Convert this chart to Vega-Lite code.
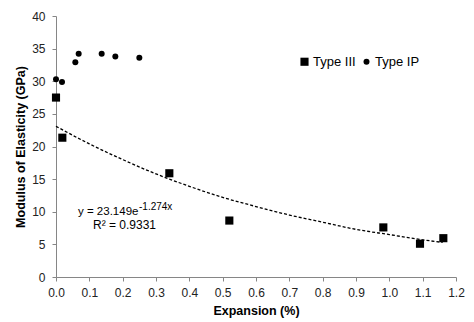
{
  "$schema": "https://vega.github.io/schema/vega-lite/v6.json",
  "width": 400,
  "height": 261,
  "autosize": "none",
  "padding": {"left": 56, "top": 16, "right": 18, "bottom": 45},
  "background": "white",
  "config": {
    "view": {"stroke": null},
    "font": "Liberation Sans",
    "axis": {
      "grid": false,
      "domainColor": "#868686",
      "tickColor": "#868686",
      "tickSize": 4,
      "labelFont": "Liberation Sans",
      "labelFontSize": 12,
      "labelColor": "#222222",
      "labelFlush": false,
      "labelOverlap": false,
      "titleFont": "Liberation Sans",
      "titleFontSize": 12.5,
      "titleFontWeight": "bold",
      "titleColor": "#000000"
    },
    "legend": {
      "labelFont": "Liberation Sans",
      "labelFontSize": 13,
      "labelColor": "#000000"
    }
  },
  "datasets": {
    "points": [
      {"expansion": 0.0, "modulus": 27.5, "type": "Type III"},
      {"expansion": 0.019, "modulus": 21.35, "type": "Type III"},
      {"expansion": 0.34, "modulus": 15.9, "type": "Type III"},
      {"expansion": 0.52, "modulus": 8.65, "type": "Type III"},
      {"expansion": 0.982, "modulus": 7.6, "type": "Type III"},
      {"expansion": 1.092, "modulus": 5.1, "type": "Type III"},
      {"expansion": 1.162, "modulus": 5.95, "type": "Type III"},
      {"expansion": 0.0, "modulus": 30.3, "type": "Type IP"},
      {"expansion": 0.018, "modulus": 29.9, "type": "Type IP"},
      {"expansion": 0.058, "modulus": 32.9, "type": "Type IP"},
      {"expansion": 0.068, "modulus": 34.2, "type": "Type IP"},
      {"expansion": 0.137, "modulus": 34.2, "type": "Type IP"},
      {"expansion": 0.178, "modulus": 33.8, "type": "Type IP"},
      {"expansion": 0.25, "modulus": 33.6, "type": "Type IP"}
    ],
    "trend": [
      {"expansion": 0.0, "modulus": 23.1},
      {"expansion": 0.1, "modulus": 20.4},
      {"expansion": 0.2, "modulus": 18.0},
      {"expansion": 0.3, "modulus": 15.8},
      {"expansion": 0.4, "modulus": 13.9},
      {"expansion": 0.5, "modulus": 12.2},
      {"expansion": 0.6, "modulus": 10.8},
      {"expansion": 0.7, "modulus": 9.5},
      {"expansion": 0.8, "modulus": 8.4},
      {"expansion": 0.9, "modulus": 7.3},
      {"expansion": 1.0, "modulus": 6.5},
      {"expansion": 1.1, "modulus": 5.7},
      {"expansion": 1.16, "modulus": 5.3}
    ]
  },
  "encoding": {
    "x": {
      "field": "expansion",
      "type": "quantitative",
      "scale": {"domain": [0, 1.2], "nice": false, "zero": false, "padding": 0},
      "axis": {
        "title": "Expansion (%)",
        "values": [0, 0.1, 0.2, 0.3, 0.4, 0.5, 0.6, 0.7, 0.8, 0.9, 1.0, 1.1, 1.2],
        "format": ".1f",
        "labelPadding": 6,
        "titlePadding": 6
      }
    },
    "y": {
      "field": "modulus",
      "type": "quantitative",
      "scale": {"domain": [0, 40], "nice": false, "padding": 0},
      "axis": {
        "title": "Modulus of Elasticity (GPa)",
        "values": [0, 5, 10, 15, 20, 25, 30, 35, 40],
        "labelPadding": 7,
        "titlePadding": 4
      }
    }
  },
  "layer": [
    {
      "data": {"name": "trend"},
      "mark": {"type": "line", "color": "#000000", "strokeWidth": 1.3, "strokeDash": [3, 2], "interpolate": "monotone"},
      "encoding": {}
    },
    {
      "data": {"name": "points"},
      "mark": {"type": "point", "filled": true, "opacity": 1, "color": "#000000", "strokeWidth": 0},
      "encoding": {
        "shape": {
          "field": "type",
          "type": "nominal",
          "scale": {"domain": ["Type III", "Type IP"], "range": ["square", "circle"]},
          "legend": {
            "title": null,
            "orient": "none",
            "direction": "horizontal",
            "legendX": 242,
            "legendY": 39,
            "padding": 0,
            "labelOffset": 2,
            "columnPadding": 4,
            "symbolStrokeWidth": 0,
            "symbolFillColor": "#000000"
          }
        },
        "size": {
          "field": "type",
          "type": "nominal",
          "scale": {"domain": ["Type III", "Type IP"], "range": [66, 36]},
          "legend": {
            "title": null,
            "orient": "none",
            "direction": "horizontal",
            "legendX": 242,
            "legendY": 39,
            "padding": 0,
            "labelOffset": 2,
            "columnPadding": 4,
            "symbolStrokeWidth": 0,
            "symbolFillColor": "#000000"
          }
        }
      }
    },
    {
      "data": {"values": [{"expansion": 0.066, "modulus": 10.0, "label": "y = 23.149e"}]},
      "mark": {"type": "text", "align": "left", "baseline": "middle", "fontSize": 11.5, "color": "#000000"},
      "encoding": {"text": {"field": "label"}}
    },
    {
      "data": {"values": [{"expansion": 0.249, "modulus": 10.8, "label": "-1.274x"}]},
      "mark": {"type": "text", "align": "left", "baseline": "middle", "fontSize": 10, "color": "#000000"},
      "encoding": {"text": {"field": "label"}}
    },
    {
      "data": {"values": [{"expansion": 0.111, "modulus": 7.9, "label": "R² = 0.9331"}]},
      "mark": {"type": "text", "align": "left", "baseline": "middle", "fontSize": 12, "color": "#000000"},
      "encoding": {"text": {"field": "label"}}
    }
  ]
}
